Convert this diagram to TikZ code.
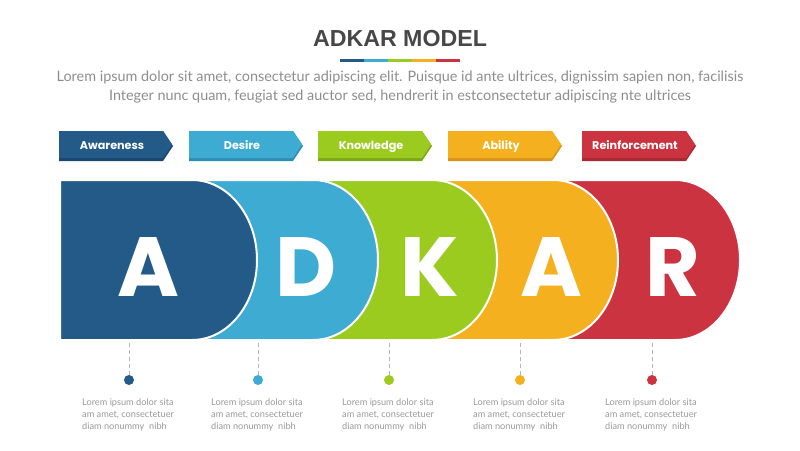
\documentclass[tikz,border=0pt]{standalone}
\usepackage{fontspec}
\setmainfont{Lato}
\newfontfamily\titlefont{Liberation Sans}
\newfontfamily\popfont{Poppins}
\definecolor{c1}{HTML}{235A88}
\definecolor{c2}{HTML}{3EABD3}
\definecolor{c3}{HTML}{9BCB1E}
\definecolor{c4}{HTML}{F5B01F}
\definecolor{c5}{HTML}{CB3341}
\definecolor{d1}{HTML}{1A4670}
\definecolor{d2}{HTML}{2E8DB2}
\definecolor{d3}{HTML}{7EA816}
\definecolor{d4}{HTML}{D8941A}
\definecolor{d5}{HTML}{A82834}
\definecolor{titlegray}{HTML}{474747}
\definecolor{subgray}{HTML}{8E8E8E}
\definecolor{smallgray}{HTML}{9A9A9A}
\definecolor{dashgray}{HTML}{B5B5B5}
\tikzset{
  shapebox/.style={draw=white, line width=2pt},
  letter/.style={text=white, font=\popfont\bfseries\fontsize{84}{84}\selectfont, inner sep=0pt, anchor=base},
  tabtext/.style={text=white, font=\popfont\bfseries\fontsize{11.2}{12}\selectfont, inner sep=0pt, anchor=base},
  dotnode/.style={circle, minimum size=10pt, inner sep=0pt},
  smalltext/.style={text=smallgray, font=\fontsize{9.2}{12}\selectfont, align=left, anchor=north west, inner sep=0pt},
  dashline/.style={draw=dashgray, line width=1pt, dash pattern=on 4pt off 3pt}
}
\begin{document}
\begin{tikzpicture}[x=1pt,y=-1pt]
\useasboundingbox (0,0) rectangle (800,450);
\fill[white] (0,0) rectangle (800,450);
% title
\node[text=titlegray, font=\titlefont\bfseries\fontsize{23.2}{24}\selectfont, inner sep=0pt, anchor=base] (title) at (400,46) {ADKAR MODEL};
\foreach \k/\col in {0/c1,1/c2,2/c3,3/c4,4/c5}{
  \draw[\col, line width=3pt] ({340+24*\k},60) -- ({364+24*\k},60);
}
\node[text=subgray, font=\fontsize{14.4}{19}\selectfont, align=center, inner sep=0pt] (sub) at (400,87.5)
 {Lorem ipsum dolor sit amet, consectetur adipiscing elit. Puisque id ante ultrices, dignissim sapien non, facilisis\\
  Integer nunc quam, feugiat sed auctor sed, hendrerit in estconsectetur adipiscing nte ultrices};
% tabs
\foreach \x/\col/\dk/\t/\n in {59/c1/d1/Awareness/t1, 189/c2/d2/Desire/t2, 318/c3/d3/Knowledge/t3, 448/c4/d4/Ability/t4, 582/c5/d5/Reinforcement/t5}{
  \fill[\dk] (\x,131) -- ({\x+104},131) -- ({\x+114},146) -- ({\x+104},161) -- (\x,161) -- cycle;
  \fill[\col] (\x,131) -- ({\x+104},131) -- ({\x+113},144.5) -- ({\x+104},158) -- (\x,158) -- cycle;
  \node[tabtext] (\n) at ({\x+53},149.8) {\t};
}
% big shapes, back to front
\foreach \c/\col in {675/c5, 553/c4, 432/c3, 313/c2, 192/c1}{
  \path[shapebox, fill=\col] (60,180) -- (\c,180)
    .. controls ({\c+35.9},180) and ({\c+65},215.8) .. ({\c+65},260)
    .. controls ({\c+65},304.2) and ({\c+35.9},340) .. (\c,340)
    -- (60,340) -- cycle;
}
% letters
\node[letter] (L1) at (148,296) {A};
\node[letter] (L2) at (306,296) {D};
\node[letter] (L3) at (430,296) {K};
\node[letter] (L4) at (551,296) {A};
\node[letter] (L5) at (673,296) {R};
% dots, dashed connectors, texts
\foreach \x/\col/\n in {129/c1/1, 258/c2/2, 389/c3/3, 520/c4/4, 652/c5/5}{
  \coordinate (b\n) at (\x,343);
  \node[dotnode, fill=\col] (dot\n) at (\x,380) {};
  \draw[dashline] (b\n) -- (dot\n.north);
  \node[smalltext] (txt\n) at ({\x-47},398.5) {Lorem ipsum dolor sita\\am amet, consectetuer\\diam nonummy\ \ nibh};
}
\end{tikzpicture}
\end{document}
